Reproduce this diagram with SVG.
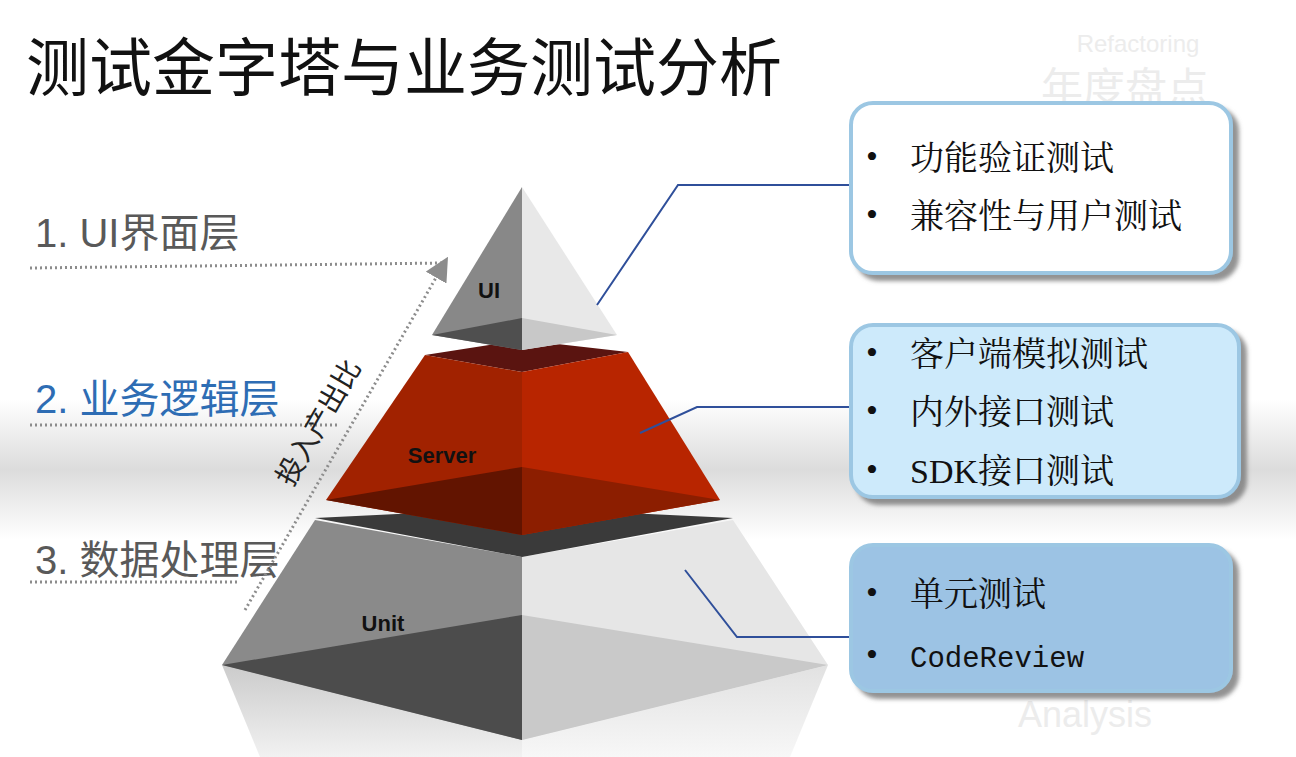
<svg xmlns="http://www.w3.org/2000/svg" width="1296" height="757" viewBox="0 0 1296 757">
<defs>
<style>
.cn{font-family:"Noto Sans CJK SC","Liberation Sans",sans-serif}
.lbl{font-family:"Liberation Sans","Noto Sans CJK SC",sans-serif;font-size:40px;fill:#595959}
.item{font-family:"Liberation Serif","Noto Serif CJK SC","Noto Sans CJK SC",serif;font-size:34px;fill:#111}
.wm{font-family:"Liberation Sans","Noto Sans CJK SC",sans-serif;fill:#ececec}
.dot{stroke:#8c8c8c;stroke-width:3;stroke-dasharray:2 3;fill:none}
.conn{stroke:#2f4f9a;stroke-width:2;fill:none}
.box{stroke:#9cc7e3;stroke-width:4}
.nl{font-family:"Liberation Sans",sans-serif;font-weight:bold;font-size:22px;fill:#111}
</style>
<linearGradient id="band" x1="0" y1="0" x2="0" y2="1">
<stop offset="0" stop-color="#fff"/><stop offset="0.5" stop-color="#dcdcdc"/><stop offset="1" stop-color="#fff"/>
</linearGradient>
<linearGradient id="refl" x1="0" y1="0" x2="0" y2="1">
<stop offset="0" stop-color="#b5b5b5"/><stop offset="1" stop-color="#fff"/>
</linearGradient>
<marker id="ah" markerWidth="8" markerHeight="8" refX="6" refY="4" orient="auto"><path d="M0,0 L8,4 L0,8 z" fill="#8c8c8c"/></marker>
<filter id="sh" x="-10%" y="-10%" width="130%" height="140%"><feDropShadow dx="6" dy="6" stdDeviation="2" flood-color="#777" flood-opacity="0.8"/></filter>
</defs>
<rect width="1296" height="757" fill="#fff"/>
<rect x="0" y="400" width="1296" height="140" fill="url(#band)"/>
<text class="wm" x="1138" y="52" font-size="24" text-anchor="middle">Refactoring</text>
<text class="wm" x="1125" y="103" font-size="42" text-anchor="middle">年度盘点</text>
<text class="wm" x="1085" y="727" font-size="36" text-anchor="middle">Analysis</text>
<text x="26" y="90" class="cn" font-size="63" fill="#111">测试金字塔与业务测试分析</text>

<g id="labels">
<text class="lbl" x="35" y="247">1. UI界面层</text>
<text class="lbl" x="35" y="413" style="fill:#2e6db4">2. 业务逻辑层</text>
<text class="lbl" x="35" y="574">3. 数据处理层</text>
<line class="dot" x1="30" y1="268" x2="445" y2="263"/>
<line class="dot" x1="30" y1="425" x2="340" y2="425"/>
<line class="dot" x1="30" y1="582" x2="240" y2="582"/>
<line class="dot" x1="245" y1="610" x2="445" y2="262" marker-end="url(#ah)"/>
<text x="0" y="0" class="cn" font-size="28" fill="#222" transform="translate(292,488) rotate(-60)">投入产出比</text>
</g>

<g id="unit">
<polygon points="222,665 522,740 522,790 260,757" fill="url(#refl)" opacity="0.7"/>
<polygon points="522,740 828,665 790,757 522,790" fill="url(#refl)" opacity="0.4"/>
<polygon points="315,520 522,557 522,740 222,665" fill="#8a8a8a"/>
<polygon points="522,557 733,520 828,665 522,740" fill="#e6e6e6"/>
<polygon points="222,665 522,615 522,740" fill="#4c4c4c"/>
<polygon points="522,615 828,665 522,740" fill="#c9c9c9"/>
<polygon points="315,518 522,508 733,518 522,557" fill="#3a3a3a"/>
<text class="nl" x="383" y="631" text-anchor="middle">Unit</text>
</g>
<g id="server">
<polygon points="425,355 522,340 628,352 522,372" fill="#5a1410"/>
<polygon points="425,355 522,372 522,535 326,500" fill="#a12200"/>
<polygon points="522,372 628,352 720,500 522,535" fill="#b82500"/>
<polygon points="326,500 522,467 522,535" fill="#621400"/>
<polygon points="522,467 720,500 522,535" fill="#8c1e00"/>
<text class="nl" x="442" y="463" text-anchor="middle">Server</text>
</g>
<g id="ui">
<polygon points="522,187 432,335 522,350" fill="#888"/>
<polygon points="522,187 522,350 617,335" fill="#e8e8e8"/>
<polygon points="432,335 522,318 522,350" fill="#4f4f4f"/>
<polygon points="522,318 617,335 522,350" fill="#c8c8c8"/>
<text class="nl" x="489" y="298" text-anchor="middle">UI</text>
</g>

<g id="connectors">
<polyline class="conn" points="597,305 678,185 850,185"/>
<polyline class="conn" points="640,433 697,407 850,407"/>
<polyline class="conn" points="685,570 737,637 850,637"/>
</g>

<g id="box1">
<rect class="box" x="851" y="103" width="380" height="170" rx="22" fill="#fff" filter="url(#sh)"/>
<text class="item" x="866" y="168" font-size="26">•</text><text class="item" x="910" y="170">功能验证测试</text>
<text class="item" x="866" y="226" font-size="26">•</text><text class="item" x="910" y="228">兼容性与用户测试</text>
</g>
<g id="box2">
<rect class="box" x="851" y="325" width="388" height="172" rx="22" fill="#cdeafb" filter="url(#sh)"/>
<text class="item" x="866" y="364" font-size="26">•</text><text class="item" x="910" y="366">客户端模拟测试</text>
<text class="item" x="866" y="422" font-size="26">•</text><text class="item" x="910" y="424">内外接口测试</text>
<text class="item" x="866" y="481" font-size="26">•</text><text class="item" x="910" y="483">SDK接口测试</text>
</g>
<g id="box3">
<rect class="box" x="851" y="545" width="380" height="146" rx="22" fill="#9cc3e4" filter="url(#sh)"/>
<text class="item" x="866" y="604" font-size="26">•</text><text class="item" x="910" y="606">单元测试</text>
<text class="item" x="866" y="666" font-size="26">•</text><text x="910" y="667" font-family="Liberation Mono,monospace" font-size="29" fill="#111">CodeReview</text>
</g>
</svg>
